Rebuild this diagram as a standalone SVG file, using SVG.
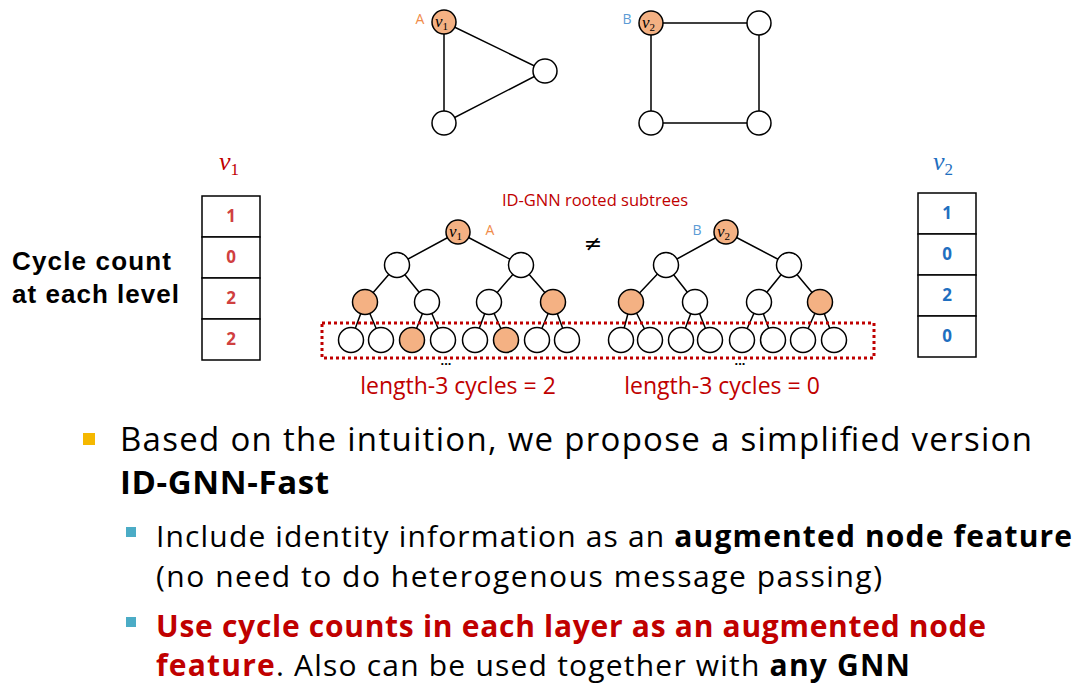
<svg xmlns="http://www.w3.org/2000/svg" width="1081" height="689" viewBox="0 0 1081 689">
<style>
.n{fill:#fff;stroke:#000;stroke-width:1.5}
.o{fill:#f4b183;stroke:#000;stroke-width:1.5}
.e{stroke:#000;stroke-width:1.5;fill:none}
.v{font-family:"Liberation Serif",serif;font-style:italic;font-size:17px}
.s{font-family:"Liberation Serif",serif;font-style:normal;font-size:11px}
.t{font-family:"Open Sans",sans-serif}
.cell{fill:#fff;stroke:#000;stroke-width:1.5}
.r{font-family:"Open Sans",sans-serif;font-weight:bold;font-size:17px;fill:#d04040;text-anchor:middle}
.b{font-family:"Open Sans",sans-serif;font-weight:bold;font-size:17px;fill:#1f6fc0;text-anchor:middle}
</style>
<rect width="1081" height="689" fill="#fff"/>
<g id="connectors">
<path class="e" d="M444,22L545,71L444,123Z"/>
<path class="e" d="M651,23H759V123H651Z"/>
<path class="e" d="M458,232L397,265M458,232L521,265M397,265L365,302M397,265L427,302M521,265L489,302M521,265L553,302M365,302L351,340M365,302L381,340M427,302L412,340M427,302L443,340M489,302L475,340M489,302L506,340M553,302L537,340M553,302L567,340"/>
<path class="e" d="M726,232L666,265M726,232L789,265M666,265L631,302M666,265L695,302M789,265L759,302M789,265L820,302M631,302L621,340M631,302L650,340M695,302L681,340M695,302L710,340M759,302L742,340M759,302L773,340M820,302L803,340M820,302L834,340"/>
</g>
<g id="graphA">
<circle class="o" cx="444" cy="22" r="12"/><text class="v" x="435" y="27">v<tspan class="s" dy="3">1</tspan></text>
<text x="420" y="24" font-family="Open Sans,sans-serif" font-size="14" fill="#f08c4a" text-anchor="middle">A</text>
<circle class="n" cx="545" cy="71" r="12"/><circle class="n" cx="444" cy="123" r="12"/>
</g>
<g id="graphB">
<circle class="o" cx="651" cy="23" r="12"/><text class="v" x="642" y="28">v<tspan class="s" dy="3">2</tspan></text>
<text x="627" y="24" font-family="Open Sans,sans-serif" font-size="14" fill="#5b9bd5" text-anchor="middle">B</text>
<circle class="n" cx="759" cy="23" r="12"/><circle class="n" cx="651" cy="123" r="12"/><circle class="n" cx="759" cy="123" r="12"/>
</g>
<g id="tree1">
<circle class="o" cx="458" cy="232" r="12"/><text class="v" x="449" y="237">v<tspan class="s" dy="3">1</tspan></text>
<text x="490" y="235" font-family="Open Sans,sans-serif" font-size="14" fill="#f08c4a" text-anchor="middle">A</text>
<circle class="n" cx="397" cy="265" r="12.5"/><circle class="n" cx="521" cy="265" r="12.5"/>
<circle class="o" cx="365" cy="302" r="12.5"/><circle class="n" cx="427" cy="302" r="12.5"/><circle class="n" cx="489" cy="302" r="12.5"/><circle class="o" cx="553" cy="302" r="12.5"/>
<circle class="n" cx="351" cy="340" r="12.5"/><circle class="n" cx="381" cy="340" r="12.5"/><circle class="o" cx="412" cy="340" r="12.5"/><circle class="n" cx="443" cy="340" r="12.5"/><circle class="n" cx="475" cy="340" r="12.5"/><circle class="o" cx="506" cy="340" r="12.5"/><circle class="n" cx="537" cy="340" r="12.5"/><circle class="n" cx="567" cy="340" r="12.5"/>
</g>
<g id="tree2">
<circle class="o" cx="726" cy="232" r="12"/><text class="v" x="717" y="237">v<tspan class="s" dy="3">2</tspan></text>
<text x="697" y="235" font-family="Open Sans,sans-serif" font-size="14" fill="#5b9bd5" text-anchor="middle">B</text>
<circle class="n" cx="666" cy="265" r="12.5"/><circle class="n" cx="789" cy="265" r="12.5"/>
<circle class="o" cx="631" cy="302" r="12.5"/><circle class="n" cx="695" cy="302" r="12.5"/><circle class="n" cx="759" cy="302" r="12.5"/><circle class="o" cx="820" cy="302" r="12.5"/>
<circle class="n" cx="621" cy="340" r="12.5"/><circle class="n" cx="650" cy="340" r="12.5"/><circle class="n" cx="681" cy="340" r="12.5"/><circle class="n" cx="710" cy="340" r="12.5"/><circle class="n" cx="742" cy="340" r="12.5"/><circle class="n" cx="773" cy="340" r="12.5"/><circle class="n" cx="803" cy="340" r="12.5"/><circle class="n" cx="834" cy="340" r="12.5"/>
</g>
<rect x="322" y="323" width="552" height="35" fill="none" stroke="#c00000" stroke-width="3" stroke-dasharray="3,3"/>
<text x="593" y="251" font-family="DejaVu Sans,sans-serif" font-size="22" text-anchor="middle">≠</text>
<text x="595" y="206" class="t" font-size="16.5" fill="#c00000" text-anchor="middle">ID-GNN rooted subtrees</text>
<text x="446" y="365" font-family="Liberation Sans,sans-serif" font-size="13" font-weight="bold" text-anchor="middle">...</text>
<text x="740" y="365" font-family="Liberation Sans,sans-serif" font-size="13" font-weight="bold" text-anchor="middle">...</text>
<text x="458" y="394" class="t" font-size="23" fill="#c00000" text-anchor="middle">length-3 cycles = 2</text>
<text x="722" y="394" class="t" font-size="23" fill="#c00000" text-anchor="middle">length-3 cycles = 0</text>
<g id="tableLeft">
<text x="219" y="170" font-family="Liberation Serif,serif" font-style="italic" font-size="26" fill="#c00000">v<tspan font-style="normal" font-size="17" dy="5">1</tspan></text>
<rect class="cell" x="202" y="196" width="58" height="41"/><rect class="cell" x="202" y="237" width="58" height="41"/><rect class="cell" x="202" y="278" width="58" height="41"/><rect class="cell" x="202" y="319" width="58" height="41"/>
<text class="r" x="231" y="222">1</text><text class="r" x="231" y="263">0</text><text class="r" x="231" y="304">2</text><text class="r" x="231" y="345">2</text>
</g>
<g id="tableRight">
<text x="933" y="170" font-family="Liberation Serif,serif" font-style="italic" font-size="26" fill="#1f6fc0">v<tspan font-style="normal" font-size="17" dy="5">2</tspan></text>
<rect class="cell" x="918" y="193" width="58" height="41"/><rect class="cell" x="918" y="234" width="58" height="41"/><rect class="cell" x="918" y="275" width="58" height="41"/><rect class="cell" x="918" y="316" width="58" height="41"/>
<text class="b" x="947" y="219">1</text><text class="b" x="947" y="260">0</text><text class="b" x="947" y="301">2</text><text class="b" x="947" y="342">0</text>
</g>
<text x="12" y="270" font-family="Liberation Sans,sans-serif" font-weight="bold" font-size="26" textLength="159">Cycle count</text>
<text x="12" y="303" font-family="Liberation Sans,sans-serif" font-weight="bold" font-size="26" textLength="167">at each level</text>
<rect x="83" y="433" width="12" height="12" fill="#f5b800"/>
<text x="120" y="451" class="t" font-size="33" textLength="912">Based on the intuition, we propose a simplified version</text>
<text x="120" y="494" class="t" font-size="33" font-weight="bold" textLength="209">ID-GNN-Fast</text>
<rect x="126" y="527" width="10" height="10" fill="#4bacc6"/>
<text x="156" y="547" class="t" font-size="30" textLength="916">Include identity information as an <tspan font-weight="bold">augmented node feature</tspan></text>
<text x="156" y="587" class="t" font-size="30" textLength="726">(no need to do heterogenous message passing)</text>
<rect x="126" y="617" width="10" height="10" fill="#4bacc6"/>
<text x="156" y="637" class="t" font-size="30" font-weight="bold" fill="#c00000" textLength="830">Use cycle counts in each layer as an augmented node</text>
<text x="156" y="676" class="t" font-size="30" textLength="754"><tspan font-weight="bold" fill="#c00000">feature</tspan>. Also can be used together with <tspan font-weight="bold">any GNN</tspan></text>
</svg>
